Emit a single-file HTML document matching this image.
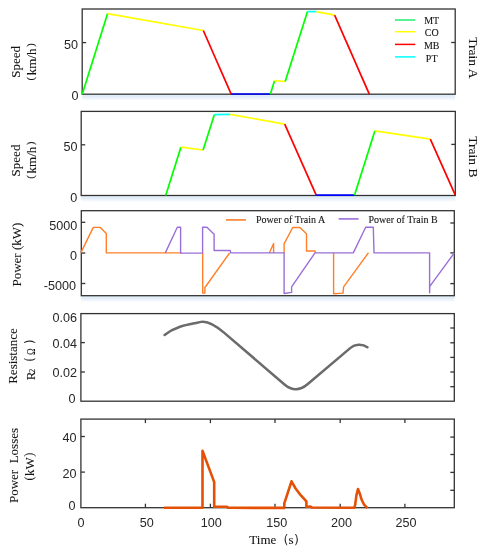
<!DOCTYPE html>
<html><head><meta charset="utf-8"><title>Train power figure</title>
<style>
html,body{margin:0;padding:0;background:#fff;width:486px;height:550px;overflow:hidden}
svg{display:block}
.tk{font-family:'Liberation Sans',Arial,sans-serif;font-size:12.6px;fill:#262626}
.lb{font-family:'Liberation Serif','Times New Roman',serif;font-size:13px;fill:#151515;stroke:#151515;stroke-width:0.08px}
.lg{font-family:'Liberation Serif','Times New Roman',serif;font-size:10px;fill:#151515;stroke:#151515;stroke-width:0.1px}
.tr{font-size:13.5px}
.cj{font-family:'Liberation Serif','WenQuanYi Zen Hei','Noto Sans CJK SC',serif}
</style></head><body>
<svg width="486" height="550" viewBox="0 0 486 550">
<defs><linearGradient id="band" x1="0" y1="0" x2="0" y2="1"><stop offset="0" stop-color="#dcf0fa"/><stop offset="0.3" stop-color="#e2ecf8"/><stop offset="1" stop-color="#fbfcfe"/></linearGradient></defs>
<rect width="486" height="550" fill="#fff"/>
<rect x="82.2" y="94.9" width="373.0" height="5.5" fill="url(#band)"/>
<rect x="81.2" y="196.2" width="374.1" height="5.5" fill="url(#band)"/>
<rect x="81.3" y="296.3" width="373.0" height="5.5" fill="url(#band)"/>
<rect x="82.2" y="9" width="373.00" height="85.20" fill="none" stroke="#333" stroke-width="1.3"/>
<line x1="82.2" y1="42.6" x2="86.2" y2="42.6" stroke="#333" stroke-width="1.3"/><line x1="455.2" y1="42.5" x2="451.2" y2="42.5" stroke="#333" stroke-width="1.3"/>
<line x1="82.2" y1="94.2" x2="107.6" y2="13.6" stroke="#00ff00" stroke-width="1.7" stroke-linecap="butt"/>
<line x1="107.6" y1="13.6" x2="203.3" y2="30.5" stroke="#ffff00" stroke-width="1.7" stroke-linecap="butt"/>
<line x1="203.3" y1="30.5" x2="231.2" y2="94.2" stroke="#ff0000" stroke-width="1.7" stroke-linecap="butt"/>
<line x1="231.2" y1="94.0" x2="270.3" y2="94.0" stroke="#0000ff" stroke-width="1.7" stroke-linecap="butt"/>
<line x1="270.3" y1="94.2" x2="274.5" y2="80.7" stroke="#00ff00" stroke-width="1.7" stroke-linecap="butt"/>
<line x1="274.5" y1="80.7" x2="285.2" y2="81.5" stroke="#ffff00" stroke-width="1.7" stroke-linecap="butt"/>
<line x1="285.2" y1="81.5" x2="307.5" y2="11.6" stroke="#00ff00" stroke-width="1.7" stroke-linecap="butt"/>
<line x1="307.5" y1="11.6" x2="316.5" y2="11.6" stroke="#00ffff" stroke-width="1.7" stroke-linecap="butt"/>
<line x1="316.5" y1="11.6" x2="334.6" y2="15.1" stroke="#ffff00" stroke-width="1.7" stroke-linecap="butt"/>
<line x1="334.6" y1="15.1" x2="369.3" y2="94.2" stroke="#ff0000" stroke-width="1.7" stroke-linecap="butt"/>
<line x1="395" y1="20" x2="415.3" y2="20" stroke="#22ee6e" stroke-width="1.5" stroke-linecap="butt"/>
<text x="431.7" y="23.5" text-anchor="middle" class="lg">MT</text>
<line x1="395" y1="31.7" x2="415.3" y2="31.7" stroke="#ffff00" stroke-width="1.5" stroke-linecap="butt"/>
<text x="431.7" y="36.4" text-anchor="middle" class="lg">CO</text>
<line x1="395" y1="44.4" x2="415.3" y2="44.4" stroke="#ff0000" stroke-width="1.5" stroke-linecap="butt"/>
<text x="431.7" y="49.4" text-anchor="middle" class="lg">MB</text>
<line x1="395" y1="56.9" x2="415.3" y2="56.9" stroke="#00ffff" stroke-width="1.5" stroke-linecap="butt"/>
<text x="431.7" y="62" text-anchor="middle" class="lg">PT</text>
<text x="78" y="48.6" text-anchor="end" class="tk">50</text><text x="78.5" y="100.3" text-anchor="end" class="tk">0</text>
<text transform="translate(20,61.8) rotate(-90)" text-anchor="middle" class="lb">Speed</text><text transform="translate(35.6,61.9) rotate(-90)" text-anchor="middle" class="lb"><tspan font-size="10.5" dy="-2.1">(</tspan><tspan dy="2.1" dx="1.7">km/h</tspan><tspan font-size="10.5" dy="-2.1" dx="1.7">)</tspan></text>
<text transform="translate(468.9,57.9) rotate(90)" text-anchor="middle" class="lb tr">Train A</text>
<rect x="81.2" y="111.4" width="374.10" height="84.10" fill="none" stroke="#333" stroke-width="1.3"/>
<line x1="81.2" y1="144.8" x2="85.2" y2="144.8" stroke="#333" stroke-width="1.3"/><line x1="455.3" y1="144.4" x2="451.3" y2="144.4" stroke="#333" stroke-width="1.3"/>
<line x1="165.7" y1="195.4" x2="180.9" y2="147.2" stroke="#00ff00" stroke-width="1.7" stroke-linecap="butt"/>
<line x1="180.9" y1="147.2" x2="203.1" y2="150" stroke="#ffff00" stroke-width="1.7" stroke-linecap="butt"/>
<line x1="203.1" y1="150" x2="214.4" y2="114.6" stroke="#00ff00" stroke-width="1.7" stroke-linecap="butt"/>
<line x1="214.4" y1="114.6" x2="230.2" y2="114.4" stroke="#00ffff" stroke-width="1.7" stroke-linecap="butt"/>
<line x1="230.2" y1="114.4" x2="284.7" y2="124.1" stroke="#ffff00" stroke-width="1.7" stroke-linecap="butt"/>
<line x1="284.7" y1="124.1" x2="316.2" y2="195.2" stroke="#ff0000" stroke-width="1.7" stroke-linecap="butt"/>
<line x1="316.2" y1="195.2" x2="354.5" y2="195.2" stroke="#0000ff" stroke-width="1.7" stroke-linecap="butt"/>
<line x1="354.5" y1="195.2" x2="374.9" y2="130.8" stroke="#00ff00" stroke-width="1.7" stroke-linecap="butt"/>
<line x1="374.9" y1="130.8" x2="430.3" y2="139.1" stroke="#ffff00" stroke-width="1.7" stroke-linecap="butt"/>
<line x1="430.3" y1="139.1" x2="455.2" y2="194.9" stroke="#ff0000" stroke-width="1.7" stroke-linecap="butt"/>
<text x="77.5" y="151.3" text-anchor="end" class="tk">50</text><text x="77.3" y="202" text-anchor="end" class="tk">0</text>
<text transform="translate(20,160.5) rotate(-90)" text-anchor="middle" class="lb">Speed</text><text transform="translate(35.6,160.1) rotate(-90)" text-anchor="middle" class="lb"><tspan font-size="10.5" dy="-2.1">(</tspan><tspan dy="2.1" dx="1.7">km/h</tspan><tspan font-size="10.5" dy="-2.1" dx="1.7">)</tspan></text>
<text transform="translate(468.9,156.9) rotate(90)" text-anchor="middle" class="lb tr">Train B</text>
<rect x="81.3" y="210.7" width="373.00" height="85.00" fill="none" stroke="#333" stroke-width="1.3"/>
<line x1="81.3" y1="222.3" x2="85.3" y2="222.3" stroke="#333" stroke-width="1.3"/><line x1="81.3" y1="253" x2="85.3" y2="253" stroke="#333" stroke-width="1.3"/><line x1="81.3" y1="283.5" x2="85.3" y2="283.5" stroke="#333" stroke-width="1.3"/><line x1="454.3" y1="223" x2="450.3" y2="223" stroke="#333" stroke-width="1.3"/><line x1="454.3" y1="252.9" x2="450.3" y2="252.9" stroke="#333" stroke-width="1.3"/><line x1="454.3" y1="283.6" x2="450.3" y2="283.6" stroke="#333" stroke-width="1.3"/>
<path d="M80.8,252.9 L93.3,227.4 L100.3,227.4 L106.3,233.5 L106.3,252.9 L181.5,252.9 M202.7,252.9 L202.7,293.1 L204.9,293.1 L204.9,287.5 L229.6,253 M269.3,253 L273.6,243.6 L273.6,253 M284.1,253 L284.1,243.8 L292.7,227.5 L299.9,227.5 L306.5,233.7 L306.5,251 L315,251 L315.5,253 M333.6,253 L333.6,293.8 L343,293.1 L343.6,286.9 L368.5,252.7" fill="none" stroke="#ff7f2a" stroke-width="1.4" stroke-linejoin="round"/>
<polyline points="165.2,253.1 177.3,227.2 180.6,227.2 180.6,253.1 202.6,253.1 202.6,227.2 206.9,227.2 214.1,234.2 214.1,250.5 230.2,250.5 230.8,252.9 284.1,252.9 284.1,293.5 291.6,292.4 291.6,286.9 315,252.9 353.3,252.9 365.7,227.2 373.3,227.2 374,252.9 429.6,252.9 429.6,292.8 429.8,286.4 454.3,252.9" fill="none" stroke="#9b6fd8" stroke-width="1.4" stroke-linejoin="round" />
<line x1="225.9" y1="219.9" x2="245.9" y2="219.9" stroke="#ff7f2a" stroke-width="1.6" stroke-linecap="butt"/>
<line x1="338.6" y1="218.9" x2="358.6" y2="218.9" stroke="#9b6fd8" stroke-width="1.6" stroke-linecap="butt"/>
<text x="256" y="223" class="lg">Power of Train A</text>
<text x="368.5" y="222.7" class="lg">Power of Train B</text>
<text x="77.4" y="230" text-anchor="end" class="tk">5000</text><text x="77" y="259.5" text-anchor="end" class="tk">0</text><text x="76" y="289.6" text-anchor="end" class="tk">-5000</text>
<text transform="translate(20.6,254.6) rotate(-90)" text-anchor="middle" class="lb">Power (kW)</text>
<rect x="80.9" y="313.6" width="373.40" height="87.60" fill="none" stroke="#333" stroke-width="1.3"/>
<line x1="80.9" y1="342.6" x2="84.9" y2="342.6" stroke="#333" stroke-width="1.3"/><line x1="80.9" y1="372" x2="84.9" y2="372" stroke="#333" stroke-width="1.3"/><line x1="454.3" y1="328" x2="450.3" y2="328" stroke="#333" stroke-width="1.3"/><line x1="454.3" y1="342.8" x2="450.3" y2="342.8" stroke="#333" stroke-width="1.3"/><line x1="454.3" y1="357.4" x2="450.3" y2="357.4" stroke="#333" stroke-width="1.3"/><line x1="454.3" y1="372" x2="450.3" y2="372" stroke="#333" stroke-width="1.3"/><line x1="454.3" y1="386.7" x2="450.3" y2="386.7" stroke="#333" stroke-width="1.3"/>
<path d="M164.6,334.9 C174.6,326.9 186,325 196,323 L201.0,321.9 Q209.38,320.06 224,332.59 L284.5,384.44 Q295.80,394.12 307.5,384.23 L350.5,347.85 C354.6,344.3 362,343.2 367.4,347.3" fill="none" stroke="#6b6b6b" stroke-width="2.5" stroke-linecap="round" stroke-linejoin="round"/>
<text x="77.1" y="321.6" text-anchor="end" class="tk">0.06</text><text x="77.1" y="347.5" text-anchor="end" class="tk">0.04</text><text x="77.1" y="377" text-anchor="end" class="tk">0.02</text><text x="75.4" y="402.9" text-anchor="end" class="tk">0</text>
<text transform="translate(17.4,356) rotate(-90)" text-anchor="middle" class="lb">Resistance</text>
<g transform="translate(34.7,380.3) rotate(-90)" class="lb"><text x="0" y="0">R</text><text x="7.6" y="0" font-size="8">2</text><text x="11" y="-1.6" class="cj">（</text><text transform="translate(25.3,0) scale(0.68,1)" x="0" y="0">Ω</text><text x="35.2" y="-1.6" class="cj">）</text></g>
<rect x="80.9" y="419.1" width="373.40" height="88.60" fill="none" stroke="#333" stroke-width="1.3"/>
<line x1="80.9" y1="436.5" x2="84.9" y2="436.5" stroke="#333" stroke-width="1.3"/><line x1="80.9" y1="472.1" x2="84.9" y2="472.1" stroke="#333" stroke-width="1.3"/><line x1="454.3" y1="437.1" x2="450.3" y2="437.1" stroke="#333" stroke-width="1.3"/><line x1="454.3" y1="454.5" x2="450.3" y2="454.5" stroke="#333" stroke-width="1.3"/><line x1="454.3" y1="472.4" x2="450.3" y2="472.4" stroke="#333" stroke-width="1.3"/><line x1="454.3" y1="490.3" x2="450.3" y2="490.3" stroke="#333" stroke-width="1.3"/>
<line x1="145.4" y1="419.1" x2="145.4" y2="423.1" stroke="#333" stroke-width="1.3"/><line x1="210.4" y1="419.1" x2="210.4" y2="423.1" stroke="#333" stroke-width="1.3"/><line x1="275" y1="419.1" x2="275" y2="423.1" stroke="#333" stroke-width="1.3"/><line x1="340.2" y1="419.1" x2="340.2" y2="423.1" stroke="#333" stroke-width="1.3"/><line x1="404.9" y1="419.1" x2="404.9" y2="423.1" stroke="#333" stroke-width="1.3"/><line x1="145.4" y1="507.7" x2="145.4" y2="503.7" stroke="#333" stroke-width="1.3"/><line x1="210.4" y1="507.7" x2="210.4" y2="503.7" stroke="#333" stroke-width="1.3"/><line x1="275" y1="507.7" x2="275" y2="503.7" stroke="#333" stroke-width="1.3"/><line x1="340.2" y1="507.7" x2="340.2" y2="503.7" stroke="#333" stroke-width="1.3"/><line x1="404.9" y1="507.7" x2="404.9" y2="503.7" stroke="#333" stroke-width="1.3"/>
<polyline points="163.9,507.8 202.5,507.8 202.5,450.7 214.2,482.1 214.2,506.7 227,506.7 228,507.8 284.3,507.9 284.3,503.4 291.5,481.3 295.6,488.5 300.7,495.2 306.4,501.4 306.4,507 310,506.5 312,507.5 354.3,507.8 355.2,504.7 356.4,495.4 358,489 359.8,493.6 361.7,499.8 364.1,504.7 367.5,508.1" fill="none" stroke="#e45005" stroke-width="2.6" stroke-linejoin="round" />
<text x="76.6" y="441.9" text-anchor="end" class="tk">40</text><text x="76.6" y="477.7" text-anchor="end" class="tk">20</text><text x="75.6" y="509.5" text-anchor="end" class="tk">0</text>
<text x="80.9" y="527.3" text-anchor="middle" class="tk">0</text>
<text x="146.7" y="527.3" text-anchor="middle" class="tk">50</text>
<text x="211.2" y="527.3" text-anchor="middle" class="tk">100</text>
<text x="276.8" y="527.3" text-anchor="middle" class="tk">150</text>
<text x="341.4" y="527.3" text-anchor="middle" class="tk">200</text>
<text x="406.1" y="527.3" text-anchor="middle" class="tk">250</text>
<text transform="translate(18.1,465.5) rotate(-90)" text-anchor="middle" class="lb">Power&#160;&#160;Losses</text><text transform="translate(34.1,466.6) rotate(-90)" text-anchor="middle" class="lb"><tspan font-size="11.5" dy="-1.1">(</tspan><tspan dy="1.1" dx="0.6">kW</tspan><tspan font-size="11.5" dy="-1.1" dx="0.6">)</tspan></text>
<text x="249.3" y="543.5" class="lb">Time<tspan class="cj" dy="-1">（</tspan><tspan dx="-0.8" dy="1">s</tspan><tspan class="cj" dx="-0.3" dy="-1">）</tspan></text>
</svg>
</body></html>
